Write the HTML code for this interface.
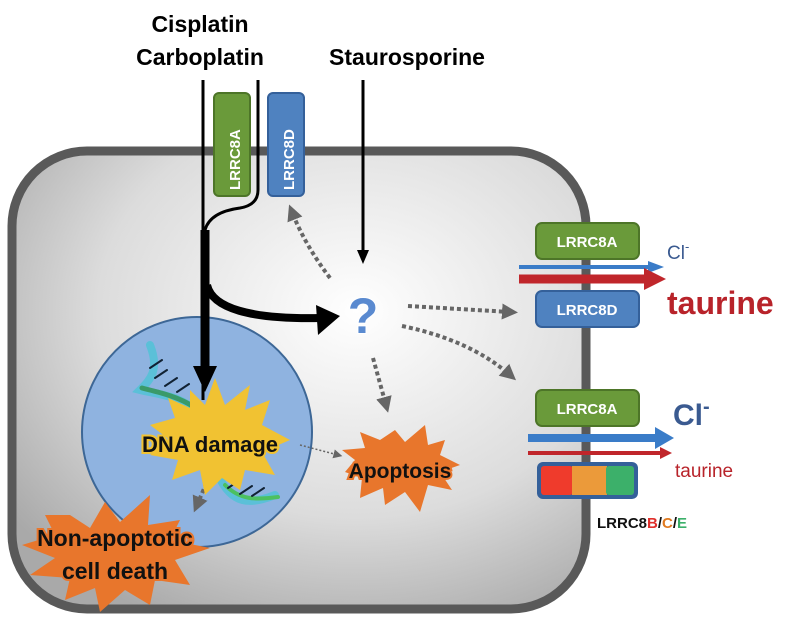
<!DOCTYPE html>
<html><head><meta charset="utf-8"><style>
html,body{margin:0;padding:0;background:#fff;}
svg{display:block;font-family:"Liberation Sans",Arial,sans-serif;font-weight:bold;}
</style></head><body>
<svg width="798" height="624" viewBox="0 0 798 624">
<defs>
<radialGradient id="cg" cx="0.6" cy="0.35" r="0.75">
<stop offset="0" stop-color="#ffffff"/><stop offset="0.6" stop-color="#dcdcdc"/><stop offset="1" stop-color="#a9a9a9"/>
</radialGradient>
<marker id="ga" markerWidth="4" markerHeight="4" refX="2" refY="2" orient="auto" markerUnits="strokeWidth"><path d="M0,0L4,2L0,4z" fill="#666"/></marker>
<marker id="gs" markerWidth="6" markerHeight="6" refX="3" refY="3" orient="auto" markerUnits="strokeWidth"><path d="M0,0L6,3L0,6z" fill="#666"/></marker>
</defs>
<text x="200" y="32" font-size="23" text-anchor="middle">Cisplatin</text>
<text x="200" y="65" font-size="23" text-anchor="middle">Carboplatin</text>
<text x="407" y="65" font-size="23" text-anchor="middle">Staurosporine</text>
<rect x="12" y="151" width="574" height="458" rx="75" fill="url(#cg)" stroke="#595959" stroke-width="9"/>
<circle cx="197" cy="432" r="115" fill="#8fb3e0" stroke="#3d6796" stroke-width="2"/>
<g fill="none" stroke-linecap="round">
<path d="M150,345 C160,370 150,380 140,390 C160,395 185,395 205,420" stroke="#5bc0d8" stroke-width="8"/>
<path d="M142,388 C170,395 190,400 210,420" stroke="#3a9a6a" stroke-width="5"/>
<path d="M218,475 C232,505 250,505 275,495" stroke="#5bc0d8" stroke-width="8"/>
<path d="M225,485 C240,500 255,500 278,497" stroke="#4cc060" stroke-width="4"/>
<path d="M150,368 l12,-8 M155,378 l12,-8 M165,386 l12,-8 M177,392 l12,-8 M228,488 l12,-8 M240,494 l12,-8 M252,496 l12,-8" stroke="#123" stroke-width="2"/>
</g>
<path d="M203,80 V400" stroke="#000" stroke-width="3" fill="none"/>
<path d="M258,80 V190 Q258,205 240,208 Q210,212 205,230" stroke="#000" stroke-width="3" fill="none"/>
<path d="M205,230 V370" stroke="#000" stroke-width="9" fill="none"/>
<path d="M193,366 L217,366 L205,392 Z" fill="#000"/>
<path d="M207,285 Q215,320 320,318" stroke="#000" stroke-width="8" fill="none"/>
<path d="M316,305 L340,316 L318,335 Z" fill="#000"/>
<path d="M363,80 V252" stroke="#000" stroke-width="3"/>
<path d="M357,250 L369,250 L363,264 Z" fill="#000"/>
<rect x="214" y="93" width="36" height="103" rx="5" fill="#6a9a3a" stroke="#4d7528" stroke-width="2"/>
<text transform="translate(240,190) rotate(-90)" font-size="15" fill="#fff">LRRC8A</text>
<rect x="268" y="93" width="36" height="103" rx="5" fill="#4f82c0" stroke="#34609a" stroke-width="2"/>
<text transform="translate(294,190) rotate(-90)" font-size="15" fill="#fff">LRRC8D</text>
<text x="363" y="333" font-size="50" text-anchor="middle" fill="#5a8ad0" stroke="#fff" stroke-width="2" paint-order="stroke">?</text>
<g stroke="#666" stroke-width="4" stroke-dasharray="4,3" fill="none">
<path d="M330,278 Q305,245 292,212" marker-end="url(#ga)"/>
<path d="M408,306 L510,312" marker-end="url(#ga)"/>
<path d="M402,326 Q470,340 510,375" marker-end="url(#ga)"/>
<path d="M373,358 L386,405" marker-end="url(#ga)"/>
<path d="M212,470 L197,505" marker-end="url(#ga)"/>
</g>
<path d="M300,445 L338,455" stroke="#666" stroke-width="1.5" stroke-dasharray="2,2" marker-end="url(#gs)" fill="none"/>
<polygon points="190,390 205,405 215,378 225,405 250,385 245,410 270,400 262,425 290,440 262,452 275,475 245,470 240,490 222,478 205,495 200,470 172,480 178,460 150,455 170,440 150,425 175,418 168,398 190,408" fill="#f1c232"/>
<text x="210" y="452" font-size="22" text-anchor="middle" fill="#111" stroke="#f1c232" stroke-width="4" paint-order="stroke">DNA damage</text>
<polygon points="395,430 405,442 425,425 428,445 445,440 440,455 460,465 440,472 452,490 428,485 420,512 405,492 385,505 383,488 360,498 362,478 345,472 355,460 342,450 365,448 360,432 380,440" fill="#e8762c"/>
<text x="400" y="478" font-size="21" text-anchor="middle" fill="#111" stroke="#e8762c" stroke-width="4" paint-order="stroke">Apoptosis</text>
<polygon points="70,515 90,528 105,502 120,522 150,495 148,525 180,520 170,540 210,548 175,560 190,585 155,580 150,605 125,590 100,612 95,588 65,600 70,578 30,575 55,558 22,545 55,535 45,515" fill="#e8762c"/>
<text x="115" y="546" font-size="23" text-anchor="middle" fill="#111" stroke="#e8762c" stroke-width="4" paint-order="stroke">Non-apoptotic</text>
<text x="115" y="579" font-size="23" text-anchor="middle" fill="#111" stroke="#e8762c" stroke-width="4" paint-order="stroke">cell death</text>
<rect x="536" y="223" width="103" height="36" rx="6" fill="#6a9a3a" stroke="#4d7528" stroke-width="2"/>
<text x="587" y="247" font-size="15" fill="#fff" text-anchor="middle">LRRC8A</text>
<rect x="536" y="291" width="103" height="36" rx="6" fill="#4f82c0" stroke="#34609a" stroke-width="2"/>
<text x="587" y="315" font-size="15" fill="#fff" text-anchor="middle">LRRC8D</text>
<path d="M519,267 H650" stroke="#3a7cc8" stroke-width="4"/><path d="M648,261 L664,267 L648,273 Z" fill="#3a7cc8"/>
<path d="M519,279 H648" stroke="#c0262b" stroke-width="9"/><path d="M644,268 L666,279 L644,290 Z" fill="#c0262b"/>
<text x="667" y="259" font-size="19" font-weight="normal" fill="#3a5a90">Cl<tspan dy="-8" font-size="13">-</tspan></text>
<text x="667" y="314" font-size="32" fill="#b8232a">taurine</text>
<rect x="536" y="390" width="103" height="36" rx="6" fill="#6a9a3a" stroke="#4d7528" stroke-width="2"/>
<text x="587" y="414" font-size="15" fill="#fff" text-anchor="middle">LRRC8A</text>
<path d="M528,438 H660" stroke="#3a7cc8" stroke-width="8"/><path d="M655,427 L674,438 L655,449 Z" fill="#3a7cc8"/>
<path d="M528,453 H665" stroke="#c0262b" stroke-width="4"/><path d="M660,447 L672,453 L660,459 Z" fill="#c0262b"/>
<text x="673" y="425" font-size="30" fill="#3a5a90">Cl<tspan dy="-12" font-size="20">-</tspan></text>
<text x="675" y="477" font-size="19" font-weight="normal" fill="#b8232a">taurine</text>
<rect x="537" y="462" width="101" height="37" rx="6" fill="#34609a"/>
<rect x="541" y="466" width="32" height="29" rx="3" fill="#ef3b2c"/>
<rect x="572" y="466" width="35" height="29" fill="#eb9a3a"/>
<rect x="606" y="466" width="28" height="29" rx="3" fill="#3cb06a"/>
<text x="597" y="528" font-size="15" fill="#111">LRRC8<tspan fill="#e0302c">B</tspan>/<tspan fill="#e07a20">C</tspan>/<tspan fill="#3cb06a">E</tspan></text>
</svg>
</body></html>
